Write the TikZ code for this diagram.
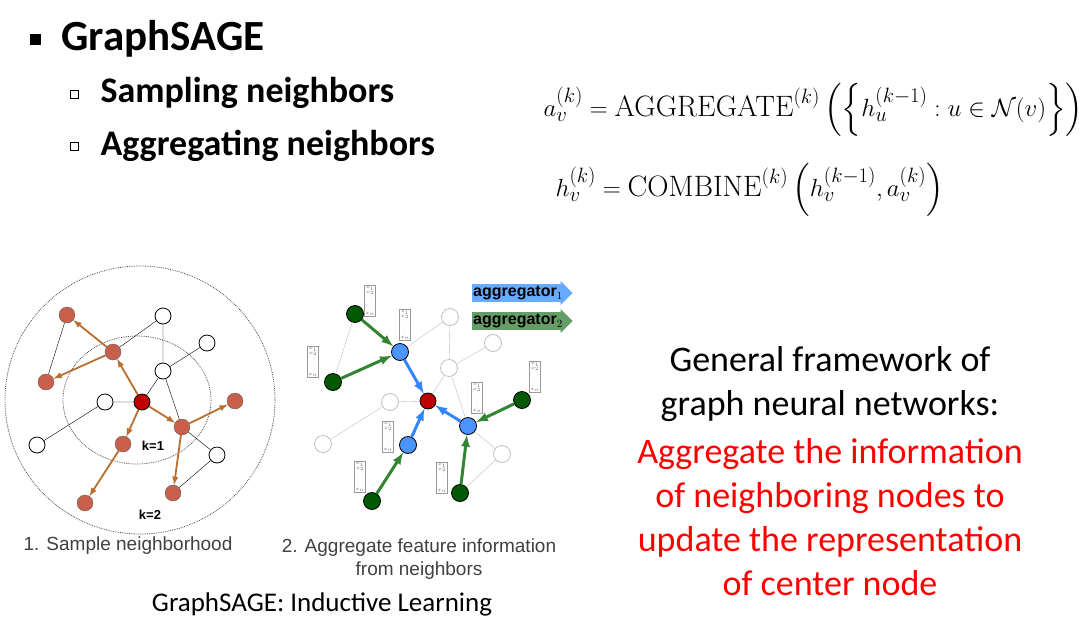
\documentclass[tikz,border=0pt]{standalone}
\usepackage{amsmath,amssymb}
\usepackage{fontspec}
\setmainfont{Carlito}
\newfontfamily\arialf{Liberation Sans}
\newfontfamily\lmr{Latin Modern Roman}
\newcommand{\opn}[1]{\text{\lmr #1}}
\usetikzlibrary{shapes.arrows}
\definecolor{brorange}{RGB}{185,110,45}
\definecolor{rednode}{RGB}{200,95,75}
\begin{document}
\begin{tikzpicture}[x=1pt,y=-1pt,
 wn/.style={circle,draw,thick,fill=white,minimum size=16pt,inner sep=0},
 rn/.style={circle,draw=black!60,fill=rednode,minimum size=16pt,inner sep=0},
 cn/.style={circle,draw,thick,fill=red!75!black,minimum size=16pt,inner sep=0},
 gn/.style={circle,draw,thick,fill=green!35!black,minimum size=17pt,inner sep=0},
 bn/.style={circle,draw,thick,fill=blue!60!cyan!70,minimum size=17pt,inner sep=0},
 ln/.style={circle,draw=black!25,thick,fill=white,minimum size=17pt,inner sep=0},
 be/.style={black,thin},
 oe/.style={draw=brorange,line width=1.8pt,-latex},
 ge/.style={black!25,thin},
 gre/.style={draw=green!40!black!80,line width=3pt,-latex},
 ble/.style={draw=blue!60!cyan!80,line width=3pt,-latex},
 vec/.style={draw=black!40,font=\fontsize{4}{4.5}\selectfont,inner sep=1pt,align=center,text=black!60},
 body/.style={font=\fontsize{36}{44}\selectfont,align=center}]
\useasboundingbox (0,0) rectangle (1091,637);
% header
\node[fill=black,minimum size=11pt,inner sep=0] (sq) at (35,39) {};
\node[anchor=west,font=\fontsize{43}{48}\selectfont\bfseries] (t) at (58,39) {GraphSAGE};
\node[draw,thick,minimum size=8pt,inner sep=0] (s2a) at (74,94) {};
\node[anchor=west,font=\fontsize{36}{40}\selectfont\bfseries] (t1) at (97,93) {Sampling neighbors};
\node[draw,thick,minimum size=8pt,inner sep=0] (s2) at (74,146) {};
\node[anchor=west,font=\fontsize{36}{40}\selectfont\bfseries] (t2) at (97,146) {Aggregating neighbors};
% formulas
\node[anchor=east,font=\fontsize{29.5}{33}\selectfont] (f1) at (1087,110) {$a_v^{(k)}=\opn{AGGREGATE}^{(k)}\left(\left\{h_u^{(k-1)}:u\in\mathcal{N}(v)\right\}\right)$};
\node[anchor=west,font=\fontsize{29.5}{33}\selectfont] (f2) at (552,190) {$h_v^{(k)}=\opn{COMBINE}^{(k)}\left(h_v^{(k-1)},a_v^{(k)}\right)$};
% left graph
\draw[densely dotted,black!70,thick] (140,400) ellipse (135 and 134);
\draw[densely dotted,black!70,thick] (137,400) ellipse (74 and 64);
\node[rn] (A) at (67,315) {};
\node[wn] (B) at (163,316) {};
\node[rn] (C) at (113,352) {};
\node[wn] (D) at (207,343) {};
\node[rn] (E) at (46,382) {};
\node[wn] (F) at (163,371) {};
\node[wn] (G) at (105,402) {};
\node[cn] (O) at (142,402) {};
\node[rn] (H) at (235,401) {};
\node[rn] (I) at (182,427) {};
\node[wn] (J) at (37,445) {};
\node[rn] (K) at (123,444) {};
\node[wn] (L) at (217,455) {};
\node[rn] (M) at (85,503) {};
\node[rn] (N) at (173,493) {};
\draw[be] (A)--(E) (B)--(C) (B)--(F) (D)--(F) (F)--(O) (F)--(I) (G)--(O) (G)--(J) (I)--(L) (L)--(N);
\draw[oe] (O)--(C); \draw[oe] (C)--(A); \draw[oe] (C)--(E); \draw[oe] (O)--(K);
\draw[oe] (K)--(M); \draw[oe] (O)--(I); \draw[oe] (I)--(H); \draw[oe] (I)--(N);
\node[font=\arialf\bfseries\fontsize{13}{14}\selectfont] (k1) at (153,446) {k=1};
\node[font=\arialf\bfseries\fontsize{13}{14}\selectfont] (k2) at (150,515) {k=2};
\node[font=\arialf\fontsize{19}{22}\selectfont,text=black!75] (cap1) at (128,546) {1. Sample neighborhood};
% right graph
\node[gn] (g1) at (355,314) {};
\node[bn] (b1) at (400,352) {};
\node[ln] (w1) at (450,317) {};
\node[ln] (w2) at (493,343) {};
\node[gn] (g2) at (333,382) {};
\node[ln] (w3) at (449,368) {};
\node[ln] (w4) at (390,402) {};
\node[cn] (c) at (428,401) {};
\node[gn] (g3) at (522,400) {};
\node[bn] (b2) at (468,426) {};
\node[ln] (w5) at (323,444) {};
\node[bn] (b3) at (408,445) {};
\node[ln] (w6) at (502,454) {};
\node[gn] (g4) at (372,501) {};
\node[gn] (g5) at (460,493) {};
\draw[ge] (g1)--(g2) (b1)--(w1) (w1)--(w3) (w2)--(w3) (w3)--(c) (w4)--(c) (w4)--(w5) (w3)--(b2) (b2)--(w6) (w6)--(g5);
\draw[gre] (g1)--(b1); \draw[gre] (g2)--(b1); \draw[gre] (g3)--(b2); \draw[gre] (g5)--(b2); \draw[gre] (g4)--(b3);
\draw[ble] (b1)--(c); \draw[ble] (b2)--(c); \draw[ble] (b3)--(c);
\foreach \n/\p in {v1/{(370,301)},v2/{(405,325)},v3/{(313,362)},v4/{(477,398)},v5/{(535,377)},v6/{(388,437)},v7/{(360,477)},v8/{(442,478)}}{
 \node[vec] (\n) at \p {$x_1$\\$x_2$\\$\vdots$\\$x_n$};}
\node[single arrow,fill=blue!55!cyan!60,minimum height=98pt,minimum width=24pt,single arrow head extend=3pt,inner sep=1pt,font=\arialf\bfseries\fontsize{16}{17}\selectfont] (ag1) at (518,293) {aggregator$_1$};
\node[single arrow,fill=green!35!black!60,minimum height=98pt,minimum width=24pt,single arrow head extend=3pt,inner sep=1pt,font=\arialf\bfseries\fontsize{16}{17}\selectfont] (ag2) at (518,321) {aggregator$_2$};
\node[font=\arialf\fontsize{19}{23}\selectfont,text=black!75,align=center] (cap2) at (419,559) {2. Aggregate feature information\\from neighbors};
\node[font=\fontsize{27}{30}\selectfont] (cap3) at (322,604) {GraphSAGE: Inductive Learning};
% right text
\node[body] (r1) at (830,384) {General framework of\\graph neural networks:};
\node[body,text=red] (r2) at (830,517) {Aggregate the information\\of neighboring nodes to\\update the representation\\of center node};
\end{tikzpicture}
\end{document}
